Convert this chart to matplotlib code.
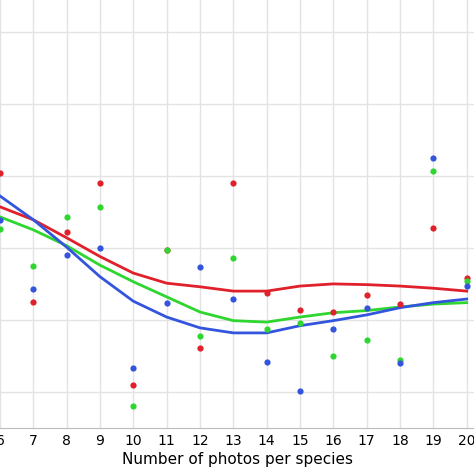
import matplotlib
matplotlib.use('Agg')
import matplotlib.pyplot as plt

x = list(range(6, 21))

red_pts = [4.04, 2.25, 3.22, 3.90, 1.10, 2.97, 1.61, 3.90, 2.37, 2.14, 2.11, 2.35, 2.22, 3.28, 2.58]
green_pts = [3.26, 2.75, 3.43, 3.57, 0.81, 2.97, 1.78, 2.86, 1.87, 1.96, 1.50, 1.72, 1.44, 4.06, 2.54]
blue_pts = [3.39, 2.43, 2.90, 3.00, 1.33, 2.24, 2.74, 2.29, 1.42, 1.01, 1.87, 2.17, 1.40, 4.25, 2.47]

red_line = [3.57, 3.39, 3.14, 2.88, 2.65, 2.51, 2.46, 2.40, 2.40, 2.47, 2.50, 2.49, 2.47, 2.44, 2.40]
green_line = [3.43, 3.25, 3.03, 2.76, 2.53, 2.32, 2.11, 1.99, 1.97, 2.04, 2.10, 2.13, 2.18, 2.22, 2.24]
blue_line = [3.72, 3.39, 3.01, 2.60, 2.26, 2.04, 1.89, 1.82, 1.82, 1.92, 1.99, 2.07, 2.17, 2.24, 2.29]

red = '#e0202a'
green = '#2fd62f'
blue = '#3355dd'

fig = plt.figure(figsize=(4.74, 4.74), dpi=100)
ax = fig.add_axes([0, 0.097, 1, 0.903])

for pts, c in [(red_pts, red), (green_pts, green), (blue_pts, blue)]:
    ax.scatter(x, pts, s=20, color=c, zorder=3, linewidths=0)
for ln, c in [(red_line, red), (green_line, green), (blue_line, blue)]:
    ax.plot(x, ln, color=c, lw=2, zorder=2)

ax.set_xlim(6, 20.22)
ax.set_ylim(0.5, 6.44)
ax.set_xticks(x)
ax.set_yticks([1, 2, 3, 4, 5, 6])
ax.set_yticklabels([])
ax.grid(color='#e3e3e3', lw=1)
ax.tick_params(axis='y', length=0)
ax.tick_params(axis='x', length=0, labelsize=10, pad=4)
for s in ['top', 'right', 'left']:
    ax.spines[s].set_visible(False)
ax.spines['bottom'].set_color('#bbbbbb')
ax.set_xlabel('Number of photos per species', fontsize=11, labelpad=3)

fig.savefig('out.png', dpi=100)
